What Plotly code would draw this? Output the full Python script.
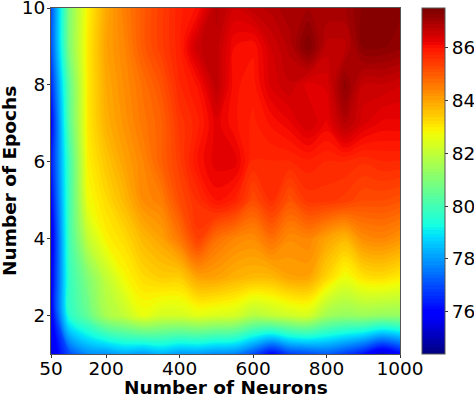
import plotly.graph_objects as go

neurons = [50,100,150,200,250,300,350,400,450,500,550,600,650,700,750,800,850,900,950,1000]
epochs = [1,2,3,4,5,6,7,8,9,10]
e1 = [75.5,77.0,77.8,77.9,78.2,78.0,78.3,78.0,78.0,77.8,77.7,77.0,76.0,76.8,77.0,77.2,76.8,76.2,75.3,76.0]
e2 = [75.8,79.6,80.5,81.6,82.0,82.6,82.3,82.3,82.5,82.4,82.3,81.8,82.0,82.2,82.3,81.5,81.3,81.4,81.3,81.3]
e3 = [75.8,79.8,81.0,82.0,82.8,83.2,83.4,83.4,84.0,84.0,83.8,83.7,83.7,84.0,84.0,83.3,82.7,83.1,83.2,83.0]
e4 = [75.6,80.0,82.0,82.9,83.2,83.7,84.0,84.6,85.4,84.7,84.4,84.3,84.7,84.3,84.4,84.0,83.7,84.3,84.4,84.2]
e5 = [76.0,80.0,82.7,83.2,83.7,84.3,84.5,85.2,85.6,86.0,85.8,85.2,85.6,85.1,85.5,85.5,85.4,85.2,85.2,85.1]
e6 = [76.3,80.0,82.9,83.5,84.0,84.4,84.9,85.4,86.0,86.3,86.3,85.7,85.7,85.7,85.8,85.7,85.7,85.6,85.7,85.7]
e7 = [76.0,80.4,83.0,83.8,84.2,84.6,84.9,85.5,85.8,86.3,86.0,85.8,86.0,86.2,86.5,86.2,86.8,86.4,86.2,86.2]
e8 = [76.5,80.5,83.0,83.9,84.3,84.7,85.1,85.7,86.0,86.7,86.0,85.9,86.4,86.6,86.3,86.4,87.2,86.6,86.6,86.5]
e9 = [77.0,81.0,83.0,84.0,84.4,85.0,85.4,85.8,86.6,86.7,86.1,86.0,86.5,86.8,87.4,86.7,86.7,87.3,87.3,87.2]
e10 = [77.0,81.0,82.9,83.9,84.5,85.0,85.4,85.8,86.0,86.8,86.5,86.7,86.8,87.0,87.0,87.0,87.0,87.3,87.3,87.3]
accuracy = [e1,e2,e3,e4,e5,e6,e7,e8,e9,e10]
x_ticks = [50,200,400,600,800,1000]
y_ticks = [2,4,6,8,10]
cb_ticks = [76,78,80,82,84,86]
z_lo, z_hi = 74.4, 87.5

jet = [[0,"rgb(0,0,128)"],[0.11,"rgb(0,0,255)"],[0.125,"rgb(0,0,255)"],[0.34,"rgb(0,219,255)"],
       [0.35,"rgb(0,230,247)"],[0.375,"rgb(21,255,226)"],[0.64,"rgb(239,255,8)"],[0.65,"rgb(247,245,0)"],
       [0.66,"rgb(255,236,0)"],[0.89,"rgb(255,19,0)"],[0.91,"rgb(232,0,0)"],[1,"rgb(128,0,0)"]]

FONT = "DejaVu Sans"
fig = go.Figure(go.Contour(
    x=neurons, y=epochs, z=accuracy, colorscale=jet, zmin=z_lo, zmax=z_hi,
    autocontour=False,
    contours=dict(start=z_lo, end=z_hi, size=0.13, coloring="fill", showlines=False),
    line=dict(width=0),
    colorbar=dict(
        x=371/349, xanchor="left", y=0.5, yanchor="middle", len=1, lenmode="fraction",
        thickness=23, thicknessmode="pixels", tickmode="array", tickvals=cb_ticks,
        ticks="outside", ticklen=3, tickwidth=1, tickcolor="#333", xpad=0, ypad=0,
        outlinewidth=1, outlinecolor="#555",
        tickfont=dict(family=FONT, size=18.5, color="black"),
    ),
))
axis = dict(showgrid=False, zeroline=False, ticks="outside", ticklen=3, tickwidth=1, tickcolor="#333",
            showline=True, mirror=True, linecolor="#555", linewidth=1, ticklabeloverflow="allow",
            automargin=False, tickfont=dict(family=FONT, size=18.5, color="black"), tickmode="array")
title_font = dict(family=FONT, size=18.5, color="black")
fig.update_layout(
    width=490, height=396, margin=dict(l=51, r=90, t=8, b=42),
    paper_bgcolor="white", plot_bgcolor="white", showlegend=False,
    xaxis=dict(axis, range=[50,1000], tickvals=x_ticks, ticklabelstandoff=-5),
    yaxis=dict(axis, range=[1,10], tickvals=y_ticks, ticklabelstandoff=-2),
    annotations=[
        dict(text="<b>Number of Neurons</b>", xref="paper", yref="paper", x=0.5, y=-(387-354)/346,
             xanchor="center", yanchor="middle", showarrow=False, font=title_font),
        dict(text="<b>Number of Epochs</b>", xref="paper", yref="paper", x=-(51-9)/349, y=0.5,
             xanchor="center", yanchor="middle", textangle=-90, showarrow=False, font=title_font),
    ],
)
fig.write_html("out.html", config=dict(displayModeBar=False),
               post_script="document.body.style.margin='0';document.documentElement.style.overflow='hidden';document.body.style.overflow='hidden';")
